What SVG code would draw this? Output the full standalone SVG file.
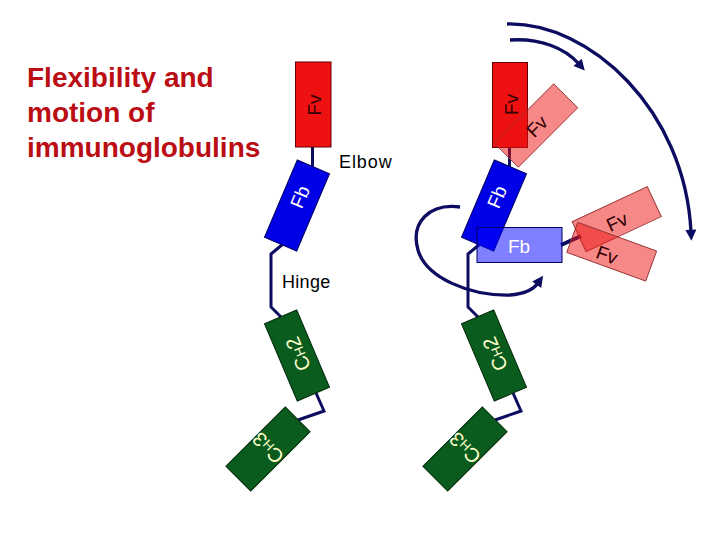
<svg xmlns="http://www.w3.org/2000/svg" width="728" height="546" viewBox="0 0 728 546">
<defs>
<style>
.link{fill:none;stroke:#0c0c60;stroke-width:3;stroke-linejoin:miter}
.arc{fill:none;stroke:#0c0c60;stroke-width:3.3}
.fv{fill:#ee1111;stroke:#660000;stroke-width:1}
.fvp{fill:#ee1111;fill-opacity:0.5;stroke:#993333;stroke-width:0.9}
.fb{fill:#0000e6;stroke:#000066;stroke-width:1}
.fbp{fill:#0000ff;fill-opacity:0.5;stroke:#000066;stroke-width:1}
.ch{fill:#0a5c1e;stroke:#002a0a;stroke-width:1}
.lbl{font-family:"Liberation Sans",Arial,sans-serif;text-anchor:middle;dominant-baseline:central}
.lbc{font-family:"Liberation Sans",Arial,sans-serif;text-anchor:middle}
.tfv{fill:#330000;font-size:19px}
.tfb{fill:#ffffff;font-size:19px}
.tch{fill:#ffffcc;font-size:20px}
.sub{font-size:13px}
.note{font-family:"Liberation Sans",Arial,sans-serif;font-size:18px;fill:#000000}
.title{font-family:"Liberation Sans",Arial,sans-serif;font-size:28px;font-weight:bold;fill:#bb0d14}
</style>
<marker id="ah" viewBox="0 0 10 10" refX="2" refY="5" markerUnits="userSpaceOnUse" markerWidth="12" markerHeight="11" orient="auto">
<path d="M0,0 L10,5 L0,10 z" fill="#0c0c60"/>
</marker>
</defs>

<g id="title">
<text class="title" x="27" y="86.5">Flexibility and</text>
<text class="title" x="27" y="121.5">motion of</text>
<text class="title" x="27" y="156.5">immunoglobulins</text>
</g>

<g id="connectors">
<path class="link" d="M312.5,147 V167"/>
<path class="link" d="M283,244 L271,254 L271,307 L281,317"/>
<path class="link" d="M316,393 L324,411 L298,420"/>
<path class="link" d="M509.5,147 V167"/>
<path class="link" d="M480,244 L468,254 L468,307 L478,317"/>
<path class="link" d="M513,393 L521,411 L495,420"/>
<path class="link" d="M561,245 L581,236" style="stroke-width:4"/>
<path class="arc" d="M507,24 C590,22 685,110 691,232" marker-end="url(#ah)"/>
<path class="arc" d="M510,40 C540,38 565,48 579,64" marker-end="url(#ah)"/>
<path class="arc" d="M460,207 C430,203 410,222 418,250 C426,278 470,296 510,295 C525,294 533,290 538,283" marker-end="url(#ah)"/>
</g>

<g id="labels">
<text class="note" x="339" y="167.5" letter-spacing="0.9">Elbow</text>
<text class="note" x="282" y="287.5" letter-spacing="0.3">Hinge</text>
</g>

<g id="left-fv">
<rect class="fv" x="295.5" y="62" width="35.5" height="85"/>
<text class="lbl tfv" transform="translate(314,105) rotate(-90)">Fv</text>
</g>
<g id="left-fb">
<rect class="fb" x="-17.5" y="-42" width="35" height="84" transform="translate(297,205.5) rotate(23)"/>
<text class="lbl tfb" transform="translate(300,197) rotate(-67)">Fb</text>
</g>
<g id="left-ch2">
<rect class="ch" x="-17.5" y="-42" width="35" height="84" transform="translate(297,355.5) rotate(-23)"/>
<text class="lbc tch" y="7" transform="translate(298,354) rotate(-113)">C<tspan class="sub">H</tspan>2</text>
</g>
<g id="left-ch3">
<rect class="ch" x="-17.5" y="-42" width="35" height="84" transform="translate(268,449) rotate(45)"/>
<text class="lbc tch" y="7" transform="translate(268,448) rotate(-135)">C<tspan class="sub">H</tspan>3</text>
</g>

<g id="right-fv">
<rect class="fv" x="492.5" y="62.5" width="35" height="85"/>
<text class="lbl tfv" transform="translate(511,104.5) rotate(-90)">Fv</text>
</g>
<g id="right-fv-moved">
<rect class="fvp" x="-17" y="-42" width="34" height="84" transform="translate(536,125.5) rotate(45)"/>
<text class="lbl tfv" transform="translate(537,126.5) rotate(-45)">Fv</text>
</g>
<g id="right-fb">
<rect class="fb" x="-17.5" y="-42" width="35" height="84" transform="translate(494,205.5) rotate(23)"/>
<text class="lbl tfb" transform="translate(497,197) rotate(-67)">Fb</text>
</g>
<g id="right-fb-moved">
<rect class="fbp" x="477" y="227.5" width="85" height="35"/>
<text class="lbl tfb" x="519" y="246">Fb</text>
</g>
<g id="right-fv-up">
<rect class="fvp" x="-41.5" y="-16.5" width="83" height="33" transform="translate(616.7,219.2) rotate(-25)"/>
<text class="lbl tfv" transform="translate(617,222) rotate(-25)">Fv</text>
</g>
<g id="right-fv-down">
<rect class="fvp" x="-42" y="-16" width="84" height="32" transform="translate(611.7,251.7) rotate(20)"/>
<text class="lbl tfv" transform="translate(607,255) rotate(20)">Fv</text>
</g>
<g id="right-ch2">
<rect class="ch" x="-17.5" y="-42" width="35" height="84" transform="translate(494,355.5) rotate(-23)"/>
<text class="lbc tch" y="7" transform="translate(495,354) rotate(-113)">C<tspan class="sub">H</tspan>2</text>
</g>
<g id="right-ch3">
<rect class="ch" x="-17.5" y="-42" width="35" height="84" transform="translate(465,449) rotate(45)"/>
<text class="lbc tch" y="7" transform="translate(465,448) rotate(-135)">C<tspan class="sub">H</tspan>3</text>
</g>
</svg>
